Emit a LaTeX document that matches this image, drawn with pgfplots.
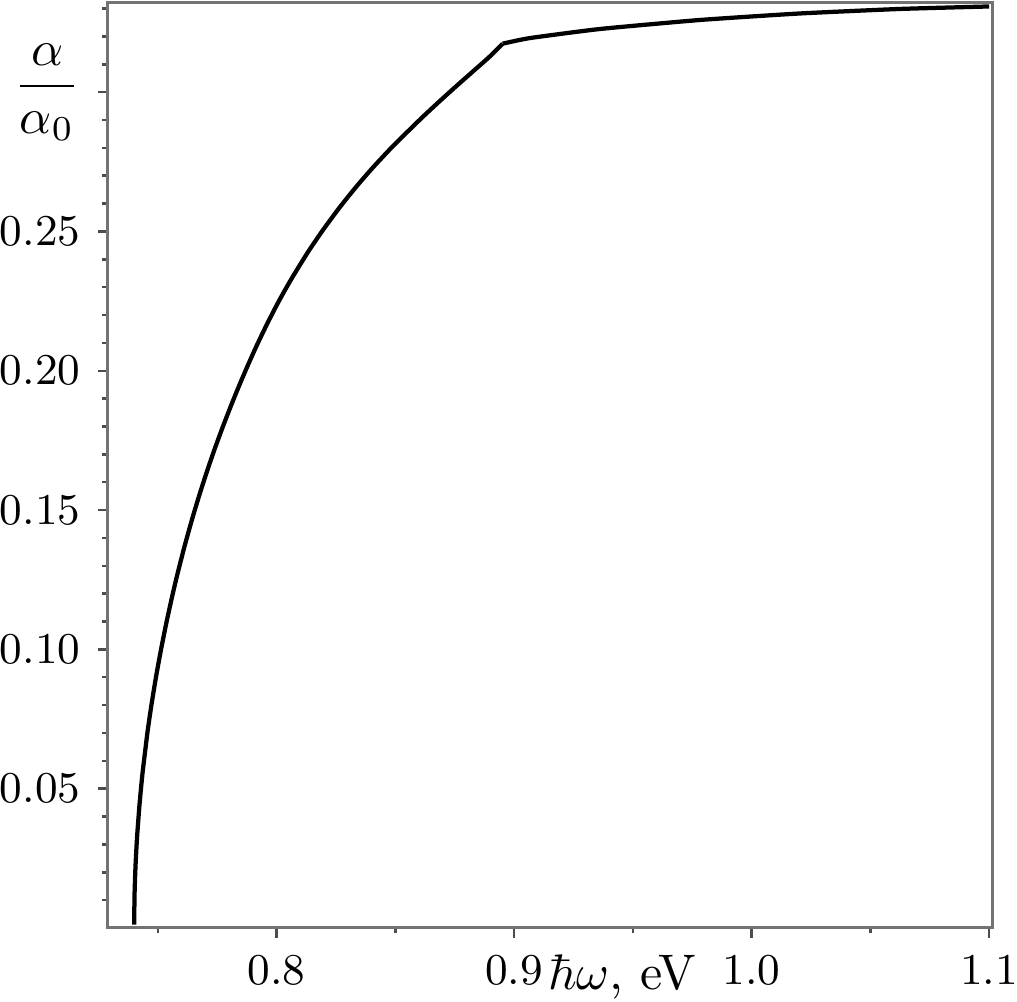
\documentclass[border=0pt]{standalone}
\usepackage{amsmath}
\usepackage{pgfplots}
\pgfplotsset{compat=1.18}
\begin{document}
\begin{tikzpicture}
\begin{axis}[
  at={(0,0)}, anchor=south west,
  scale only axis,
  width=176.8pt, height=185pt,
  xmin=0.729, xmax=1.1012,
  ymin=0, ymax=0.332,
  axis line style={draw=black!55, line width=0.6pt},
  tick style={draw=black!70, line width=0.5pt},
  tick align=outside,
  xtick pos=left, ytick pos=left,
  major tick length=2pt, minor tick length=1.1pt,
  ticklabel style={font=\fontsize{8.8}{10}\selectfont},
  xtick={0.8,0.9,1.0,1.1},
  xticklabels={0.8,0.9,1.0,1.1},
  minor xtick={0.75,0.85,0.95,1.05},
  ytick={0.05,0.10,0.15,0.20,0.25,0.30},
  yticklabels={0.05,0.10,0.15,0.20,0.25,{\normalsize$\dfrac{\alpha}{\alpha_0}$}},
  minor ytick={0.01,0.02,0.03,0.04,0.06,0.07,0.08,0.09,0.11,0.12,0.13,0.14,0.16,0.17,0.18,0.19,0.21,0.22,0.23,0.24,0.26,0.27,0.28,0.29,0.31,0.32,0.33},
  xlabel={$\hbar\omega$, eV},
  xlabel style={at={(axis description cs:0.4966,0)}, anchor=base west, yshift=-12.4pt, inner sep=0pt},
]
\addplot[black, line width=0.85pt, smooth, tension=0.35] coordinates {
  (0.74000,0.00122)
  (0.74021,0.01302)
  (0.74063,0.02306)
  (0.74126,0.03291)
  (0.74232,0.04482)
  (0.74358,0.05590)
  (0.74568,0.07065)
  (0.74737,0.08050)
  (0.74947,0.09137)
  (0.75158,0.10108)
  (0.75368,0.10996)
  (0.75579,0.11817)
  (0.75789,0.12583)
  (0.76105,0.13644)
  (0.76421,0.14615)
  (0.76737,0.15514)
  (0.77053,0.16353)
  (0.77389,0.17187)
  (0.77726,0.17971)
  (0.78084,0.18759)
  (0.78442,0.19507)
  (0.78800,0.20219)
  (0.79158,0.20899)
  (0.79579,0.21647)
  (0.80000,0.22349)
  (0.80337,0.22874)
  (0.80674,0.23371)
  (0.81305,0.24241)
  (0.81937,0.25036)
  (0.82653,0.25863)
  (0.83368,0.26622)
  (0.84042,0.27284)
  (0.84758,0.27939)
  (0.85432,0.28514)
  (0.86147,0.29108)
  (0.86863,0.29676)
  (0.87579,0.30227)
  (0.88253,0.30734)
  (0.88968,0.31275)
  (0.89516,0.31740)
};
\addplot[black, line width=0.85pt, smooth, tension=0.3] coordinates {
  (0.89516,0.31740)
  (0.90653,0.31940)
  (0.93600,0.32266)
  (0.97811,0.32590)
  (1.02021,0.32824)
  (1.06232,0.32986)
  (1.10000,0.33076)
};
\end{axis}
\pgfresetboundingbox
\path[use as bounding box] (-21.6pt,-14.8pt) rectangle (181.8pt,185.6pt);
\end{tikzpicture}
\end{document}
